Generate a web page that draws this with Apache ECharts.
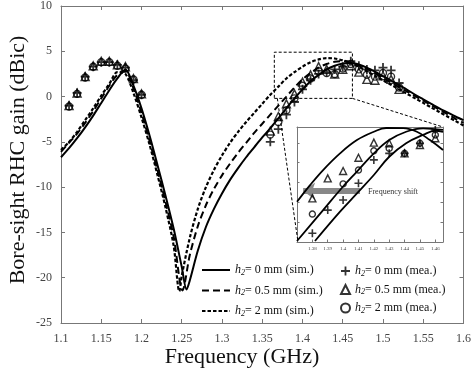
<!DOCTYPE html>
<html><head><meta charset="utf-8">
<script src="https://cdn.jsdelivr.net/npm/echarts@6/dist/echarts.min.js"></script>
<style>html,body{margin:0;padding:0;background:#fff}#c{width:474px;height:378px}</style>
</head><body><div id="c"></div>
<script>
// ---------- main plot data ----------
const xTickInterval = 0.05;
const yTickInterval = 5;

// h2 = 0 mm (sim.)  solid
const solidX = [1.10,1.11,1.12,1.13,1.14,1.15,1.16,1.17,1.18,1.19,1.20,1.21,1.22,1.23,1.24,1.25,1.256,1.26,1.27,1.28,1.29,1.30,1.31,1.32,1.33,1.34,1.35,1.36,1.37,1.38,1.39,1.40,1.41,1.42,1.43,1.44,1.45,1.46,1.47,1.48,1.49,1.50,1.51,1.52,1.53,1.54,1.55,1.56,1.57,1.58,1.59,1.60];
const solidY = [-6.7,-5.7,-4.6,-3.4,-2.1,-0.7,0.7,2.0,3.0,1.2,-1.3,-4.3,-7.6,-11.0,-14.6,-18.8,-21.3,-20.3,-17.0,-14.4,-12.4,-10.7,-9.2,-7.9,-6.7,-5.6,-4.5,-3.5,-2.4,-1.3,-0.2,0.8,1.7,2.4,3.0,3.4,3.65,3.7,3.55,3.2,2.75,2.25,1.75,1.25,0.75,0.2,-0.3,-0.8,-1.3,-1.75,-2.2,-2.6];

// h2 = 0.5 mm (sim.)  dashed
const dashX = [1.10,1.11,1.12,1.13,1.14,1.15,1.16,1.17,1.18,1.19,1.20,1.21,1.22,1.23,1.24,1.251,1.26,1.27,1.28,1.29,1.30,1.31,1.32,1.33,1.34,1.35,1.36,1.37,1.38,1.39,1.40,1.41,1.42,1.43,1.44,1.45,1.46,1.47,1.48,1.49,1.50,1.51,1.52,1.53,1.54,1.55,1.56,1.57,1.58,1.59,1.60];
const dashY = [-6.1,-5.1,-4.1,-2.9,-1.6,-0.2,1.2,2.4,2.8,0.9,-1.8,-4.9,-8.2,-11.7,-15.5,-21.4,-17.5,-14.3,-12.0,-10.2,-8.7,-7.4,-6.2,-5.1,-4.0,-3.0,-2.0,-1.0,0.0,1.0,1.9,2.6,3.2,3.6,3.85,3.9,3.75,3.45,3.05,2.55,2.05,1.55,1.05,0.55,0.05,-0.45,-0.95,-1.45,-1.95,-2.45,-2.9];

// h2 = 2 mm (sim.)  dotted
const dotX = [1.10,1.11,1.12,1.13,1.14,1.15,1.16,1.17,1.18,1.19,1.20,1.21,1.22,1.23,1.24,1.247,1.25,1.26,1.27,1.28,1.29,1.30,1.31,1.32,1.33,1.34,1.35,1.36,1.37,1.38,1.39,1.40,1.41,1.42,1.43,1.44,1.45,1.46,1.47,1.48,1.49,1.50,1.51,1.52,1.53,1.54,1.55,1.56,1.57,1.58,1.59,1.60];
const dotY = [-5.9,-5.0,-3.9,-2.6,-1.3,0.1,1.4,2.7,2.5,0.4,-2.3,-5.3,-8.7,-12.3,-16.5,-21.5,-19.8,-15.6,-12.4,-10.0,-8.1,-6.5,-5.1,-3.9,-2.8,-1.8,-0.8,0.2,1.1,2.0,2.7,3.3,3.8,4.1,4.25,4.2,4.0,3.7,3.3,2.8,2.3,1.8,1.3,0.8,0.3,-0.2,-0.7,-1.2,-1.7,-2.2,-2.7,-3.2];

// measured frequencies (GHz)
const meaX = [1.11,1.12,1.13,1.14,1.15,1.16,1.17,1.18,1.19,1.20,
              1.36,1.37,1.38,1.39,1.40,1.41,1.42,1.43,1.44,1.45,1.46,1.47,1.48,1.49,1.50,1.51,1.52];
// h2 = 0 mm (mea.)  plus
const plusY = [-1.0,0.4,2.2,3.3,3.8,3.8,3.5,3.2,1.8,0.2,
               -5.0,-3.6,-2.0,-0.6,0.8,1.8,2.5,2.7,3.0,3.3,3.9,3.4,3.0,2.9,3.2,2.9,1.5];
// h2 = 0.5 mm (mea.)  triangle
const triY = [-1.0,0.4,2.2,3.4,3.9,3.9,3.5,3.3,2.0,0.3,
              -3.8,-2.2,-0.8,0.3,1.6,2.4,3.3,3.0,2.5,3.0,3.4,2.7,1.9,1.8,2.3,1.9,0.8];
// h2 = 2 mm (mea.)  circle
const circY = [-1.1,0.3,2.1,3.3,3.8,3.8,3.4,3.1,1.9,0.2,
               -4.2,-2.8,-1.5,-0.2,1.2,2.0,2.8,2.6,2.5,3.1,3.6,3.0,2.4,2.2,2.6,2.2,1.0];

// zoom box on main plot: [x0, x1, y0, y1]
const zoomBox = [1.365, 1.462, -0.2, 4.9];

// ---------- inset data ----------
const insetXRange = [1.37, 1.465];
const insetYRange = [-1, 4.8];
const insetAX = [1.37,1.3785,1.387,1.398,1.409,1.42,1.428,1.439,1.448,1.4565,1.465];
const insetAY = [1.03,1.87,2.63,3.47,4.14,4.56,4.75,4.74,4.56,4.14,3.64];
const insetBX = [1.37,1.387,1.399,1.409,1.42,1.43,1.441,1.452,1.465];
const insetBY = [-0.95,0.61,1.71,2.55,3.47,4.14,4.56,4.73,4.65];
const insetCX = [1.3817,1.398,1.409,1.42,1.43,1.441,1.452,1.46,1.465];
const insetCY = [-0.95,0.53,1.45,2.38,3.3,3.98,4.4,4.61,4.56];
const insetMX = [1.38,1.39,1.40,1.41,1.42,1.43,1.44,1.45,1.46];
const insetTriY = [1.2,2.21,2.58,3.25,4.01,3.98,3.47,3.89,4.23];
const insetCircY = [0.41,null,1.93,2.63,3.6,3.72,3.47,3.98,4.4];
const insetPlusY = [-0.56,0.61,1.12,1.96,3.14,3.47,3.47,3.98,4.65];
const shiftArrow = {from: [1.411, 1.57], to: [1.374, 1.57]};
const shiftLabel = 'Frequency shift';

const names = {
  s0: 'h2= 0 mm (sim.)', s05: 'h2= 0.5 mm (sim.)', s2: 'h2= 2 mm (sim.)',
  m0: 'h2= 0 mm (mea.)', m05: 'h2= 0.5 mm (mea.)', m2: 'h2= 2 mm (mea.)'
};

const zip = (xs, ys) => xs.map((x, i) => [x, ys[i] == null ? '-' : ys[i]]);
const SERIF = 'Liberation Serif, Times New Roman, serif';
const PLUS = 'path://M4,0L6,0L6,4L10,4L10,6L6,6L6,10L4,10L4,6L0,6L0,4L4,4Z';

const chart = echarts.init(document.getElementById('c'), null, {renderer: 'canvas'});

const axisCommon = {
  axisLine: {show: true, onZero: false, lineStyle: {color: '#777', width: 1}},
  axisTick: {show: true, inside: true, length: 4, lineStyle: {color: '#777'}},
  splitLine: {show: false}
};
const smallTick = {axisTick: {show: true, inside: true, length: 2.5, lineStyle: {color: '#777'}}};

function simSeries(name, xs, ys, type, width) {
  return {
    name, type: 'line', xAxisIndex: 0, yAxisIndex: 0,
    data: zip(xs, ys), symbol: 'none', smooth: 0.3,
    lineStyle: {color: '#000', width, type}, itemStyle: {color: '#000'}, z: 3
  };
}
function meaSeries(name, ys, sym, size, xi, yi, xs, z) {
  const isPlus = sym === PLUS;
  return {
    name, type: 'scatter', xAxisIndex: xi, yAxisIndex: yi,
    data: zip(xs, ys), symbol: sym, symbolSize: size,
    itemStyle: {color: isPlus ? '#000' : 'rgba(255,255,255,0)', borderColor: '#000', borderWidth: isPlus ? 0 : 1.4}, z
  };
}

const legendRich = {
  i: {fontFamily: SERIF, fontStyle: 'italic', fontSize: 12, color: '#111'},
  s: {fontFamily: SERIF, fontStyle: 'italic', fontSize: 8, color: '#111', padding: [5, 0, 0, 0]},
  t: {fontFamily: SERIF, fontSize: 12, color: '#111'}
};
const legendFmt = n => '{i|h}{s|2}{t|' + n.slice(2) + '}';

const titleX = {type: 'text', x: 242, y: 357, style: {text: 'Frequency (GHz)', font: '22px ' + SERIF, fill: '#111', align: 'center', verticalAlign: 'middle'}};
const titleY = {type: 'text', x: 18, y: 160, rotation: Math.PI / 2,
  style: {text: 'Bore-sight RHC gain (dBic)', font: '22px ' + SERIF, fill: '#111', align: 'center', verticalAlign: 'middle'}};

const option = {
  animation: false,
  backgroundColor: '#fff',
  grid: [
    {left: 61, top: 6, width: 403, height: 317, show: false},
    {left: 297, top: 127, width: 146, height: 115, show: true, backgroundColor: '#fff', borderWidth: 0}
  ],
  xAxis: [
    Object.assign({type: 'value', gridIndex: 0, position: 'bottom', min: 1.1, max: 1.6, interval: xTickInterval,
      axisLabel: {margin: 10, fontFamily: SERIF, fontSize: 12, color: '#444', formatter: v => String(+v.toFixed(2))}}, axisCommon),
    Object.assign({type: 'value', gridIndex: 0, position: 'top', min: 1.1, max: 1.6, interval: xTickInterval,
      axisLabel: {show: false}}, axisCommon),
    Object.assign({type: 'value', gridIndex: 1, position: 'bottom', min: insetXRange[0], max: insetXRange[1], interval: 0.01,
      axisLabel: {margin: 4, fontFamily: SERIF, fontSize: 5, color: '#444', showMinLabel: false, formatter: v => String(+v.toFixed(2))}},
      axisCommon, smallTick),
    Object.assign({type: 'value', gridIndex: 1, position: 'top', min: insetXRange[0], max: insetXRange[1], interval: 0.01,
      axisLabel: {show: false}}, axisCommon, {axisTick: {show: false}})
  ],
  yAxis: [
    Object.assign({type: 'value', gridIndex: 0, position: 'left', min: -25, max: 10, interval: yTickInterval,
      axisLabel: {margin: 9, fontFamily: SERIF, fontSize: 12, color: '#444'}}, axisCommon),
    Object.assign({type: 'value', gridIndex: 0, position: 'right', min: -25, max: 10, interval: yTickInterval,
      axisLabel: {show: false}}, axisCommon),
    Object.assign({type: 'value', gridIndex: 1, position: 'left', min: insetYRange[0], max: insetYRange[1], interval: 1,
      axisLabel: {show: false}}, axisCommon, smallTick),
    Object.assign({type: 'value', gridIndex: 1, position: 'right', min: insetYRange[0], max: insetYRange[1], interval: 1,
      axisLabel: {show: false}}, axisCommon, smallTick)
  ],
  legend: [
    {data: [names.s0, names.s05, names.s2], orient: 'vertical', left: 196, top: 259,
     itemWidth: 28, itemHeight: 12, itemGap: 8, formatter: legendFmt, itemStyle: {opacity: 0},
     textStyle: {rich: legendRich}, selectedMode: false},
    {data: [names.m0, names.m05, names.m2], orient: 'vertical', left: 335, top: 260,
     itemWidth: 9, itemHeight: 9, itemGap: 6, formatter: legendFmt,
     textStyle: {rich: legendRich}, selectedMode: false}
  ],
  series: [
    simSeries(names.s0, solidX, solidY, 'solid', 2),
    simSeries(names.s05, dashX, dashY, [7, 4], 2),
    simSeries(names.s2, dotX, dotY, [3.5, 2], 2.2),
    meaSeries(names.m0, plusY, PLUS, 9, 0, 0, meaX, 6),
    meaSeries(names.m05, triY, 'triangle', 8, 0, 0, meaX, 5),
    meaSeries(names.m2, circY, 'circle', 7, 0, 0, meaX, 5),
    {
      name: 'zoomBox', type: 'line', xAxisIndex: 0, yAxisIndex: 0, symbol: 'none', silent: true,
      data: [[zoomBox[0], zoomBox[2]], [zoomBox[1], zoomBox[2]], [zoomBox[1], zoomBox[3]], [zoomBox[0], zoomBox[3]], [zoomBox[0], zoomBox[2]]],
      lineStyle: {color: '#000', width: 1, type: [3, 2]}, z: 2
    },
    // inset
    {name: 'insetA', type: 'line', xAxisIndex: 2, yAxisIndex: 2, data: zip(insetAX, insetAY), symbol: 'none', smooth: 0.4,
     lineStyle: {color: '#000', width: 1.8}, z: 5},
    {name: 'insetB', type: 'line', xAxisIndex: 2, yAxisIndex: 2, data: zip(insetBX, insetBY), symbol: 'none', smooth: 0.4,
     lineStyle: {color: '#000', width: 1.8}, z: 5},
    {name: 'insetC', type: 'line', xAxisIndex: 2, yAxisIndex: 2, data: zip(insetCX, insetCY), symbol: 'none', smooth: 0.4,
     lineStyle: {color: '#000', width: 1.8}, z: 5,
     markLine: {silent: true, symbol: ['none', 'arrow'], symbolSize: [13, 12], label: {show: false},
       lineStyle: {color: '#888', width: 6, type: 'solid'},
       data: [[{coord: shiftArrow.from}, {coord: shiftArrow.to}]]}},
    meaSeries('insetPlus', insetPlusY, PLUS, 8, 2, 2, insetMX, 7),
    meaSeries('insetTri', insetTriY, 'triangle', 7, 2, 2, insetMX, 6),
    meaSeries('insetCirc', insetCircY, 'circle', 6, 2, 2, insetMX, 6)
  ],
  graphic: [titleX, titleY]
};
chart.setOption(option);

// connectors and annotation text positioned from the axes
const bl = chart.convertToPixel({xAxisIndex: 0, yAxisIndex: 0}, [zoomBox[0], zoomBox[2]]);
const br = chart.convertToPixel({xAxisIndex: 0, yAxisIndex: 0}, [zoomBox[1], zoomBox[2]]);
const ibl = chart.convertToPixel({xAxisIndex: 2, yAxisIndex: 2}, [insetXRange[0], insetYRange[0]]);
const itr = chart.convertToPixel({xAxisIndex: 2, yAxisIndex: 2}, [insetXRange[1], insetYRange[1]]);
const lbl = chart.convertToPixel({xAxisIndex: 2, yAxisIndex: 2}, shiftArrow.from);
chart.setOption({graphic: [
  titleX, titleY,
  {type: 'line', shape: {x1: bl[0] + 3, y1: bl[1], x2: ibl[0] + 1, y2: ibl[1]}, style: {stroke: '#000', lineWidth: 1, lineDash: [3, 2]}, z: 10},
  {type: 'line', shape: {x1: br[0], y1: br[1], x2: itr[0], y2: itr[1]}, style: {stroke: '#000', lineWidth: 1, lineDash: [3, 2]}, z: 10},
  {type: 'text', x: lbl[0] + 8, y: lbl[1] + 1, style: {text: shiftLabel, font: '8px ' + SERIF, fill: '#333', verticalAlign: 'middle'}, z: 10}
]});
</script></body></html>
